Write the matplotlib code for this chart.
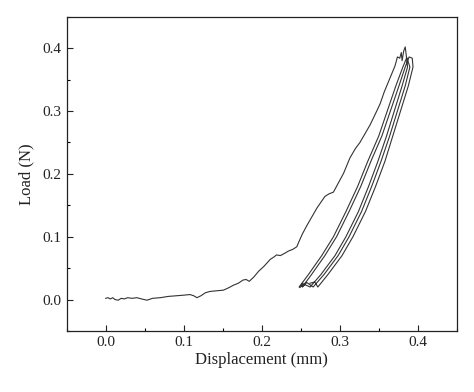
import matplotlib.pyplot as plt
from matplotlib.ticker import MultipleLocator

plt.rcParams['font.family'] = ['Liberation Serif', 'DejaVu Serif']

# first loading curve
load_x = [0.000, 0.003, 0.006, 0.009, 0.012, 0.016, 0.020, 0.024, 0.028, 0.034,
          0.040, 0.046, 0.053, 0.060, 0.070, 0.080, 0.090, 0.100, 0.108, 0.113,
          0.117, 0.122, 0.128, 0.134, 0.142, 0.151, 0.158, 0.164, 0.170, 0.176,
          0.180, 0.184, 0.190, 0.196, 0.203, 0.211, 0.216, 0.219, 0.224, 0.230,
          0.234, 0.240, 0.245, 0.247, 0.252, 0.258, 0.265, 0.271, 0.276, 0.281,
          0.286, 0.292, 0.298, 0.305, 0.313, 0.320, 0.326, 0.333, 0.339, 0.346,
          0.352, 0.357, 0.362, 0.367, 0.371, 0.374, 0.377, 0.379, 0.380, 0.382,
          0.384, 0.385]
load_y = [0.002, 0.003, 0.001, 0.003, 0.000, -0.001, 0.002, 0.001, 0.003, 0.002,
          0.003, 0.001, -0.001, 0.002, 0.003, 0.005, 0.006, 0.007, 0.008, 0.006,
          0.003, 0.006, 0.011, 0.013, 0.014, 0.015, 0.019, 0.023, 0.026, 0.031,
          0.032, 0.029, 0.036, 0.045, 0.053, 0.064, 0.068, 0.071, 0.070, 0.074,
          0.077, 0.080, 0.084, 0.090, 0.104, 0.118, 0.133, 0.146, 0.155, 0.164,
          0.168, 0.171, 0.185, 0.201, 0.225, 0.240, 0.250, 0.265, 0.278, 0.296,
          0.312, 0.330, 0.345, 0.360, 0.372, 0.386, 0.384, 0.393, 0.380, 0.395,
          0.402, 0.392]

# hysteresis loops: branches given as x at common load levels
loop_y = [0.02, 0.04, 0.07, 0.10, 0.14, 0.18, 0.22, 0.26, 0.30, 0.34, 0.37]
branch1 = [0.248, 0.260, 0.277, 0.292, 0.308, 0.323, 0.336, 0.350, 0.361, 0.372, 0.381]
branch2 = [0.252, 0.264, 0.281, 0.296, 0.312, 0.327, 0.340, 0.354, 0.365, 0.376, 0.384]
branch3 = [0.262, 0.276, 0.294, 0.308, 0.324, 0.337, 0.349, 0.360, 0.370, 0.380, 0.387]
branch4 = [0.266, 0.280, 0.298, 0.312, 0.328, 0.341, 0.353, 0.364, 0.374, 0.384, 0.390]
branch5 = [0.272, 0.285, 0.303, 0.317, 0.333, 0.346, 0.358, 0.368, 0.378, 0.388, 0.394]
peak_x = [0.386, 0.389, 0.393]
peak_y = [0.385, 0.386, 0.384]

# assemble the cycle path: down 3, up 1, down 4, up 2, down 5
cyc_x = list(load_x)
cyc_y = list(load_y)
cyc_x += branch3[::-1] + [0.255, 0.250, 0.253, 0.249] + branch1 + [peak_x[0]]
cyc_y += loop_y[::-1] + [0.024, 0.021, 0.026, 0.019] + loop_y + [peak_y[0]]
cyc_x += branch4[::-1] + [0.258, 0.252, 0.256] + branch2 + [peak_x[1], peak_x[2]]
cyc_y += loop_y[::-1] + [0.027, 0.022, 0.025] + loop_y + [peak_y[1], peak_y[2]]
cyc_x += branch5[::-1] + [0.268, 0.262]
cyc_y += loop_y[::-1] + [0.028, 0.026]

fig = plt.figure(figsize=(4.74, 3.92), dpi=100)
ax = fig.add_axes([0.1407, 0.1556, 0.8228, 0.8018])
ax.plot(cyc_x, cyc_y, color='#333333', linewidth=0.8)

ax.set_xlim(-0.05, 0.45)
ax.set_ylim(-0.05, 0.45)
ax.xaxis.set_major_locator(MultipleLocator(0.1))
ax.xaxis.set_minor_locator(MultipleLocator(0.05))
ax.yaxis.set_major_locator(MultipleLocator(0.1))
ax.yaxis.set_minor_locator(MultipleLocator(0.05))
ax.set_xticks([0.0, 0.1, 0.2, 0.3, 0.4])
ax.set_yticks([0.0, 0.1, 0.2, 0.3, 0.4])
ax.set_xticklabels(['0.0', '0.1', '0.2', '0.3', '0.4'])
ax.set_yticklabels(['0.0', '0.1', '0.2', '0.3', '0.4'])
ax.tick_params(which='major', direction='in', length=4, width=0.8, labelsize=11, colors='#222222')
ax.tick_params(which='minor', direction='in', length=2.5, width=0.8)
for s in ax.spines.values():
    s.set_linewidth(0.9)
    s.set_color('#222222')

ax.set_xlabel('Displacement (mm)', fontsize=12, color='#222222', labelpad=2)
ax.set_ylabel('Load (N)', fontsize=12, color='#222222', labelpad=6)

fig.savefig('out.png', dpi=100)
